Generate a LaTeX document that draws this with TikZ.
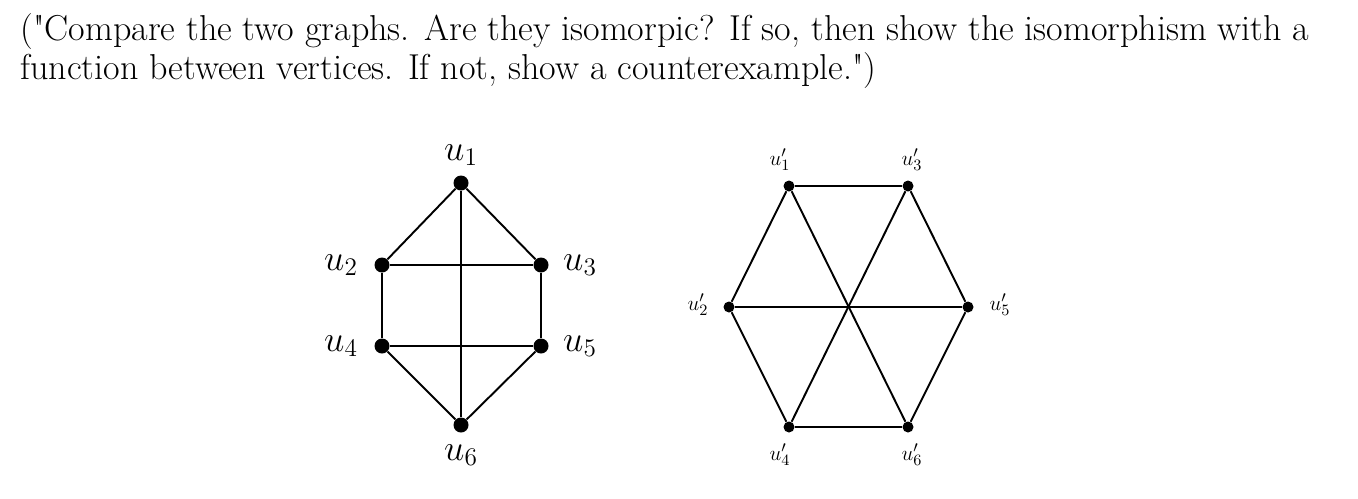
\documentclass[tikz,border=0pt]{standalone}
\begin{document}
\begin{tikzpicture}[x=0.02cm,y=-0.02cm,
  big/.style={circle,fill,inner sep=0pt,minimum size=15*0.02cm},
  sm/.style={circle,fill,inner sep=0pt,minimum size=11*0.02cm},
  ed/.style={line width=1.1pt}]
\useasboundingbox (0,0) rectangle (1358,498);
\node[anchor=west,align=left,inner sep=0pt,font=\fontsize{20.5}{21}\selectfont] (txt) at (20,51)
 {(\textquotedbl Compare the two graphs. Are they isomorpic? If so, then show the isomorphism with a\\[0.9pt]
 function between vertices. If not, show a counterexample.\textquotedbl)};
\node[big] (a1) at (461,183) {};
\node[big] (a2) at (382,265) {};
\node[big] (a3) at (541,265) {};
\node[big] (a4) at (382,346) {};
\node[big] (a5) at (541,346) {};
\node[big] (a6) at (461,425) {};
\foreach \p/\q in {a1/a2,a1/a3,a1/a6,a2/a3,a2/a4,a3/a5,a4/a5,a4/a6,a5/a6}
  \draw[ed] (\p) -- (\q);
\begin{scope}[font=\fontsize{19.5}{21}\selectfont]
\node (l1) at (461,155) {$u_1$};
\node (l2) at (341,265) {$u_2$};
\node (l3) at (580,265) {$u_3$};
\node (l4) at (341,346) {$u_4$};
\node (l5) at (580,346) {$u_5$};
\node (l6) at (461,455) {$u_6$};
\end{scope}
\node[sm] (b1) at (789,186) {};
\node[sm] (b3) at (908,186) {};
\node[sm] (b2) at (729,307) {};
\node[sm] (b5) at (968,307) {};
\node[sm] (b4) at (789,427) {};
\node[sm] (b6) at (908,427) {};
\foreach \p/\q in {b1/b3,b3/b5,b5/b6,b6/b4,b4/b2,b2/b1,b1/b6,b3/b4,b2/b5}
  \draw[ed] (\p) -- (\q);
\begin{scope}[font=\fontsize{13}{14}\selectfont]
\node (m1) at (780,160) {$u_1'$};
\node (m3) at (912,160) {$u_3'$};
\node (m2) at (698,305) {$u_2'$};
\node (m5) at (1000,305) {$u_5'$};
\node (m4) at (780,455) {$u_4'$};
\node (m6) at (912,455) {$u_6'$};
\end{scope}
\end{tikzpicture}
\end{document}
